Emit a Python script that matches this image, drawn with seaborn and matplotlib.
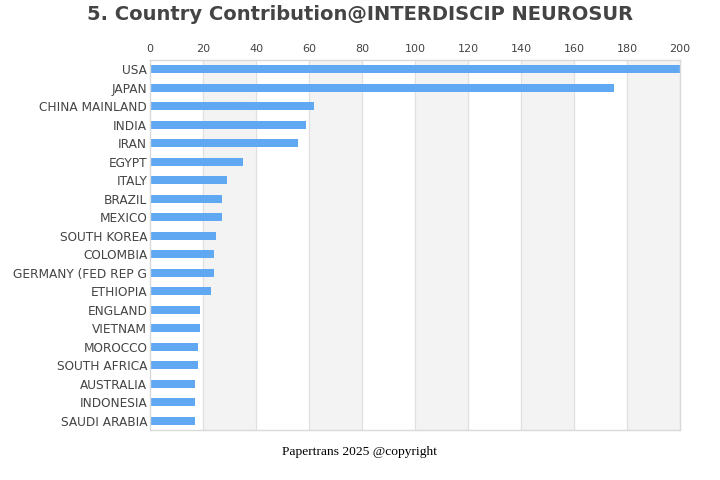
import matplotlib
matplotlib.use("Agg")
import matplotlib.pyplot as plt
import seaborn as sns
import pandas as pd

countries = ["USA", "JAPAN", "CHINA MAINLAND", "INDIA", "IRAN", "EGYPT", "ITALY",
             "BRAZIL", "MEXICO", "SOUTH KOREA", "COLOMBIA", "GERMANY (FED REP G",
             "ETHIOPIA", "ENGLAND", "VIETNAM", "MOROCCO", "SOUTH AFRICA",
             "AUSTRALIA", "INDONESIA", "SAUDI ARABIA"]
counts = [200, 175, 62, 59, 56, 35, 29, 27, 27, 25, 24, 24, 23, 19, 19, 18, 18, 17, 17, 17]
x_ticks = [0, 20, 40, 60, 80, 100, 120, 140, 160, 180, 200]

df = pd.DataFrame({"country": countries, "count": counts})

sns.set_style("white")
fig = plt.figure(figsize=(7.2, 4.8), dpi=100)
ax = fig.add_axes([150 / 720, 50 / 480, 530 / 720, 370 / 480])

# alternating background bands
for i in range(1, len(x_ticks) - 1, 2):
    ax.axvspan(x_ticks[i], x_ticks[i + 1], color="#f3f3f3", zorder=0)
for t in x_ticks[1:-1]:
    ax.axvline(t, color="#e0e0e0", lw=0.8, zorder=0.5)

sns.barplot(data=df, y="country", x="count", color="#61a8f3", width=0.45,
            saturation=1, linewidth=0, ax=ax, zorder=2)

ax.set_xlim(0, 200)
ax.set_xticks(x_ticks)
ax.xaxis.tick_top()
ax.tick_params(axis="x", labelsize=8, colors="#444444", length=0, pad=4)
ax.tick_params(axis="y", labelsize=8.7, colors="#444444", length=0, pad=2)
ax.set_xlabel("")
ax.set_ylabel("")
for s in ax.spines.values():
    s.set_color("#d9d9d9")
    s.set_linewidth(1)

fig.text(0.5, 0.97, "5. Country Contribution@INTERDISCIP NEUROSUR", ha="center", va="center",
         fontsize=14, fontweight="bold", color="#444444")
fig.text(0.5, 1 - 452 / 480, "Papertrans 2025 @copyright", ha="center", va="center",
         fontsize=9.7, family="Liberation Serif", color="#000000")

fig.savefig("out.png", dpi=100)
